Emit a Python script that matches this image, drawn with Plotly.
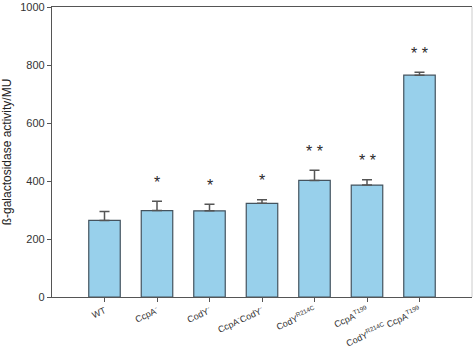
import plotly.graph_objects as go

# Strains and measured beta-galactosidase activity (Miller units)
strains = [
    "WT",
    "CcpA<sup>-</sup>",
    "CodY<sup>-</sup>",
    "CcpA<sup>-</sup>CodY<sup>-</sup>",
    "CodY<sup>R214C</sup>",
    "CcpA<sup>T199</sup>",
    "CodY<sup>R214C</sup> CcpA<sup>T199</sup>",
]
activity = [264, 298, 297, 323, 402, 386, 765]
sd = [31, 32, 23, 12, 35, 18, 10]
significance = ["", "*", "*", "*", "**", "**", "**"]

x_pos = list(range(len(strains)))

fig = go.Figure()
fig.add_trace(go.Bar(
    x=x_pos,
    y=activity,
    width=0.6,
    marker=dict(color="#98D0EB", line=dict(color="#44535e", width=1.2)),
    error_y=dict(type="data", array=sd, arrayminus=[0] * len(sd), symmetric=False,
                 color="#555555", thickness=1.5, width=5),
    showlegend=False,
))

# Significance marks above the error bars
for xi, v, e, s in zip(x_pos, activity, sd, significance):
    if s:
        fig.add_annotation(x=xi, y=v + e, yshift=19, text=s.replace("*", "* ").strip(),
                           showarrow=False, yanchor="middle",
                           font=dict(size=16, color="#2a2a2a", family="Liberation Sans"))

fig.update_layout(
    width=474, height=348,
    margin=dict(l=52, r=2, t=7, b=51),
    plot_bgcolor="white", paper_bgcolor="white",
    font=dict(family="Liberation Sans, Arial, sans-serif", color="#333333"),
    xaxis=dict(
        range=[-1, 7],
        tickmode="array", tickvals=x_pos, ticktext=strains,
        tickangle=-25, ticks="outside", ticklen=4, tickcolor="#555555",
        tickfont=dict(size=9, color="#333333"),
        showline=True, linecolor="#555555", linewidth=1.2, mirror=True,
        showgrid=False, zeroline=False, automargin=False,
    ),
    yaxis=dict(
        range=[0, 1000], tickvals=[0, 200, 400, 600, 800, 1000],
        ticks="outside", ticklen=4, tickcolor="#555555",
        tickfont=dict(size=11, color="#333333"),
        showline=True, linecolor="#555555", linewidth=1.2,
        showgrid=False, zeroline=False, automargin=False,
        ticklabeloverflow="allow",
        title=dict(text="ß-galactosidase activity/MU", font=dict(size=12, color="#222222"),
                   standoff=6),
    ),
    shapes=[dict(type="line", xref="paper", yref="paper", x0=1, x1=1, y0=0, y1=1,
                 line=dict(color="#cccccc", width=1))],
)

fig.write_html("out.html")
